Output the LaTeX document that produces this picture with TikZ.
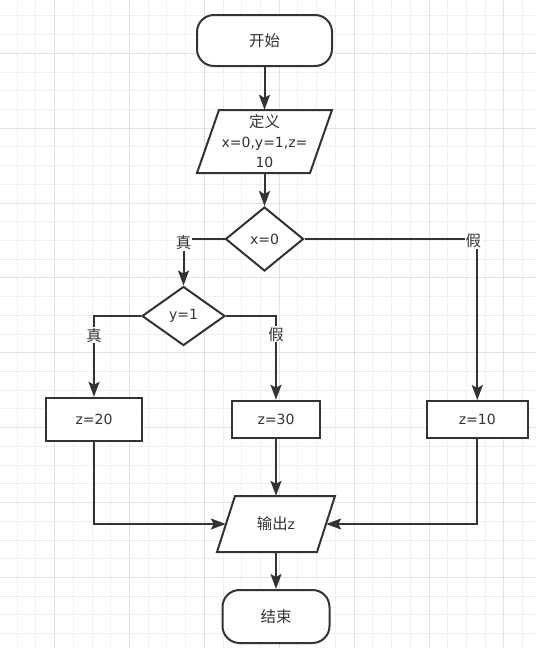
\documentclass[tikz,border=0pt]{standalone}
\usepackage{fontspec}
\setmainfont{DejaVu Sans}
\newfontfamily\cjk{Noto Sans CJK SC}[Scale=1.1]
\usetikzlibrary{shapes.geometric,arrows.meta}
\definecolor{ink}{RGB}{51,51,51}
\definecolor{gridminor}{RGB}{240,240,240}
\definecolor{gridmajor}{RGB}{226,226,226}
\begin{document}
\begin{tikzpicture}[x=1pt,y=-1pt,
  every node/.style={font=\fontsize{14}{20}\selectfont, text=ink},
  shp/.style={draw=ink, line width=2pt, fill=white, inner sep=0pt, align=center},
  term/.style={shp, rectangle, rounded corners=17pt},
  proc/.style={shp, rectangle},
  dec/.style={shp, diamond},
  para/.style={inner sep=0pt, align=center, rectangle},
  paraline/.style={draw=ink, line width=2pt, fill=white, line join=miter},
  conn/.style={draw=ink, line width=2pt, -{Stealth[length=15pt,width=11pt,inset=3pt]}},
  lbl/.style={fill=white, inner sep=1pt, font=\fontsize{14}{20}\selectfont\cjk}]
\fill[white] (0,0) rectangle (536,648);
\useasboundingbox (0,0) rectangle (536,648);
% grid
\foreach \i in {0,...,28}{\draw[gridminor, line width=1pt] ({17.16+18.72*\i},0) -- ++(0,648);}
\foreach \j in {0,...,33}{\draw[gridminor, line width=1pt] (0,{15.86+18.72*\j}) -- ++(536,0);}
\foreach \i in {0,...,6}{\draw[gridmajor, line width=1pt] ({54.6+74.88*\i},0) -- ++(0,648);}
\foreach \j in {0,...,7}{\draw[gridmajor, line width=1pt] (0,{53.3+74.88*\j}) -- ++(536,0);}

% parallelogram outlines
\coordinate (defc) at (264.5,141.5);
\coordinate (outc) at (276,524);
\draw[paraline] ([shift={(-45.5,-31.5)}]defc) -- ([shift={(67.5,-31.5)}]defc) -- ([shift={(45.5,31.5)}]defc) -- ([shift={(-67.5,31.5)}]defc) -- cycle;
\draw[paraline] ([shift={(-41,-28)}]outc) -- ([shift={(59,-28)}]outc) -- ([shift={(41,28)}]outc) -- ([shift={(-59,28)}]outc) -- cycle;

% nodes
\node[term, minimum width=135pt, minimum height=51pt] (start) at (264.5,40.5) {\cjk 开始};
\node[para, minimum width=113pt, minimum height=63pt] (def) at (defc) {{\cjk 定义}\\x=0,y=1,z=\\10};
\node[dec, minimum width=78pt, minimum height=64pt] (d1) at (264.5,239) {x=0};
\node[dec, minimum width=83pt, minimum height=59pt] (d2) at (183.5,316) {y=1};
\node[proc, minimum width=96.5pt, minimum height=43pt] (r20) at (94,419.3) {z=20};
\node[proc, minimum width=88pt, minimum height=37pt] (r30) at (276,419.2) {z=30};
\node[proc, minimum width=101pt, minimum height=37pt] (r10) at (477.3,419.5) {z=10};
\node[para, minimum width=100pt, minimum height=56pt] (out) at (outc) {{\cjk 输出}z};
\node[term, minimum width=107pt, minimum height=53pt] (stop) at (276,616.5) {\cjk 结束};

% connectors
\draw[conn] (start.south) -- (def.north);
\draw[conn] (def.south) -- (d1.north);
\draw[conn] (d1.west) -| node[lbl, pos=0.5, yshift=-4pt]{真} (d2.north);
\draw[conn] (d1.east) -| node[lbl, pos=0.5, xshift=-4pt, yshift=-2pt]{假} (r10.north);
\draw[conn] (d2.west) -| node[lbl, pos=0.62]{真} (r20.north);
\draw[conn] (d2.east) -| node[lbl, pos=0.61]{假} (r30.north);
\draw[conn] (r20.south) |- (out.west);
\draw[conn] (r30.south) -- (out.north);
\draw[conn] (r10.south) |- (out.east);
\draw[conn] (out.south) -- (stop.north);
\end{tikzpicture}
\end{document}
